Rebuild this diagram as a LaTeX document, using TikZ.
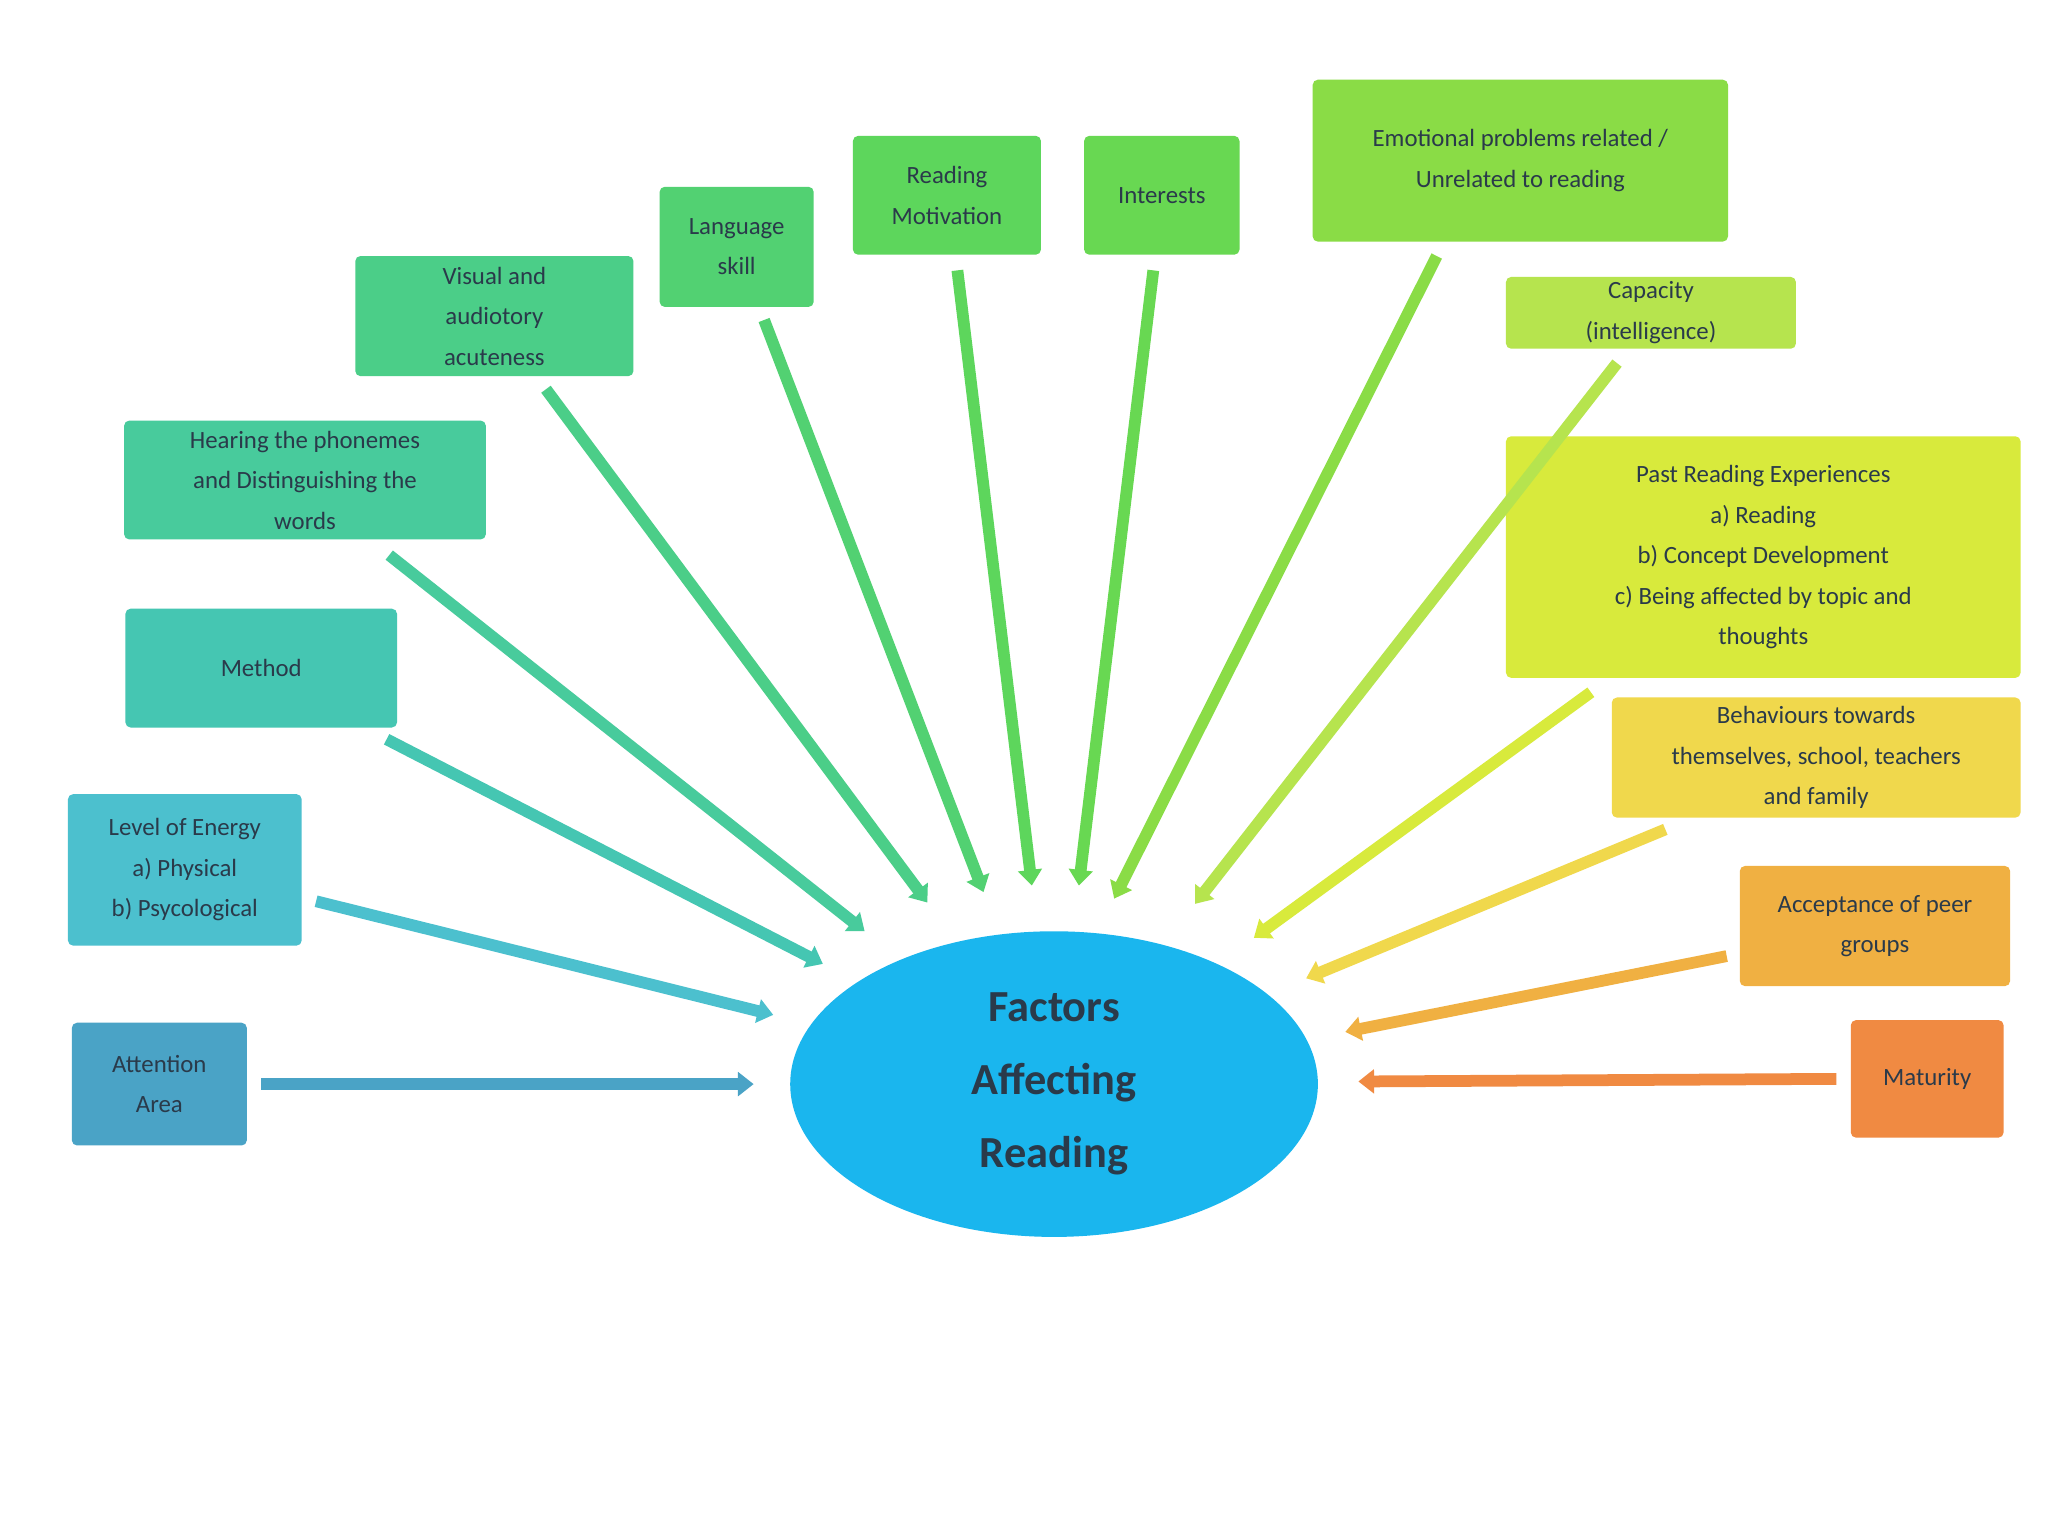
\documentclass[tikz,border=0pt]{standalone}
\usepackage{fontspec}
\setmainfont{Carlito}
\usetikzlibrary{arrows.meta,shapes.geometric}
\definecolor{cA}{HTML}{4AA3C6}
\definecolor{cB}{HTML}{4CC0CE}
\definecolor{cC}{HTML}{45C6B2}
\definecolor{cD}{HTML}{48CB9C}
\definecolor{cE}{HTML}{4BCE88}
\definecolor{cF}{HTML}{52D172}
\definecolor{cG}{HTML}{5DD65C}
\definecolor{cH}{HTML}{68D852}
\definecolor{cI}{HTML}{8ADC46}
\definecolor{cJ}{HTML}{B6E44E}
\definecolor{cK}{HTML}{D8EA3C}
\definecolor{cL}{HTML}{F0D84C}
\definecolor{cM}{HTML}{F0B042}
\definecolor{cN}{HTML}{F08A42}
\definecolor{cO}{HTML}{1AB6EE}
\definecolor{txt}{HTML}{2A3A4A}
\begin{document}
\begin{tikzpicture}[x=1pt,y=-1pt,
 box/.style={rounded corners=4pt,align=center,inner sep=0pt,text=txt,font=\fontsize{19}{31}\selectfont},
 arr/.style={line width=9pt,-{Triangle[length=12pt,width=18pt]}}]
\useasboundingbox (0,0) rectangle (1568,1176);
\fill[white] (0,0) rectangle (1568,1176);
\newcommand\bx[7]{\node[box,fill=#6,minimum width=#3pt-#1pt,minimum height=#4pt-#2pt] (#5) at ({(#1+#3)/2},{(#2+#4)/2}) {#7};}
\bx{55}{783}{189}{877}{att}{cA}{Attention\\Area}
\bx{52}{608}{231}{724}{ene}{cB}{Level of Energy\\a) Physical\\b) Psycological}
\bx{96}{466}{304}{557}{met}{cC}{Method}
\bx{95}{322}{372}{413}{hea}{cD}{Hearing the phonemes\\and Distinguishing the\\words}
\bx{272}{196}{485}{288}{vis}{cE}{Visual and\\audiotory\\acuteness}
\bx{505}{143}{623}{235}{lan}{cF}{Language\\skill}
\bx{653}{104}{797}{195}{mot}{cG}{Reading\\Motivation}
\bx{830}{104}{949}{195}{int}{cH}{Interests}
\bx{1005}{61}{1323}{185}{emo}{cI}{Emotional problems related /\\Unrelated to reading}
\bx{1153}{212}{1375}{267}{cap}{cJ}{Capacity\\(intelligence)}
\bx{1153}{334}{1547}{519}{pas}{cK}{Past Reading Experiences\\a) Reading\\b) Concept Development\\c) Being affected by topic and\\thoughts}
\bx{1234}{534}{1547}{626}{beh}{cL}{Behaviours towards\\themselves, school, teachers\\and family}
\bx{1332}{663}{1539}{755}{acc}{cM}{Acceptance of peer\\groups}
\bx{1417}{781}{1534}{871}{mat}{cN}{Maturity}
\node[ellipse,fill=cO,minimum width=404pt,minimum height=234pt,inner sep=0pt,align=center,text=txt,font=\fontsize{34}{56}\selectfont\bfseries] (far) at (807,830) {Factors\\Affecting\\Reading};
\newcommand\ar[6]{\coordinate (s#1) at (#2,#3); \coordinate (e#1) at (#4,#5); \draw[arr,#6] (s#1) -- (e#1);}
\ar{1}{200}{830}{577}{830}{cA}
\ar{2}{242}{690}{592}{777}{cB}
\ar{3}{296}{566}{630}{738}{cC}
\ar{4}{298}{425}{662}{713}{cD}
\ar{5}{418}{298}{710}{691}{cE}
\ar{6}{585}{245}{753}{683}{cF}
\ar{7}{733}{207}{790}{678}{cG}
\ar{8}{883}{207}{826}{678}{cH}
\ar{9}{1100}{196}{853}{688}{cI}
\ar{10}{1238}{278}{915}{692}{cJ}
\ar{11}{1218}{530}{960}{718}{cK}
\ar{12}{1275}{635}{1000}{749}{cL}
\ar{13}{1322}{732}{1030}{790}{cM}
\ar{14}{1406}{826}{1040}{828}{cN}
\end{tikzpicture}
\end{document}
